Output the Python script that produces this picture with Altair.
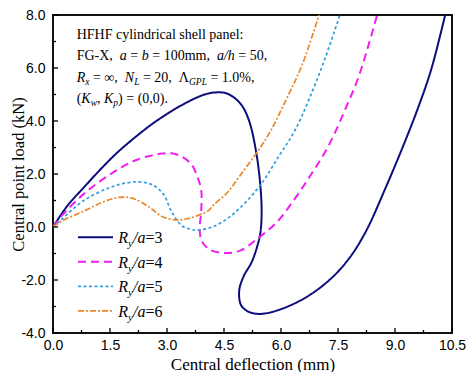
import altair as alt
import pandas as pd

# ---------------- data ----------------
series_names = ["3", "4", "5", "6"]

x_r3 = [0.0, 0.39, 0.81, 1.24, 1.67, 2.19, 2.70, 3.39, 3.99, 4.30, 4.59, 4.93, 5.15, 5.35,
        5.46, 5.49, 5.46, 5.37, 5.22, 5.02, 4.90, 4.95, 5.15, 5.45, 5.96, 6.65, 7.29, 7.80, 8.24,
        8.75, 9.19, 9.60, 9.95, 10.32]
y_r3 = [0.0, 0.82, 1.49, 2.16, 2.78, 3.42, 3.98, 4.60, 5.00, 5.08, 5.03, 4.66, 4.05, 2.80,
        1.50, 0.60, -0.20, -0.75, -1.35, -1.85, -2.40, -2.95, -3.20, -3.28, -3.12, -2.66, -1.98, -1.17, -0.15,
        1.47, 2.97, 4.47, 5.93, 8.00]

x_r4 = [0.0, 0.21, 0.81, 1.50, 2.19, 2.87, 3.12, 3.40, 3.65, 3.80, 3.90, 3.90, 3.86, 3.92, 4.12,
        4.50, 4.93, 5.36, 5.87, 6.39, 6.80, 7.16, 7.42, 7.72, 8.00, 8.27, 8.53]
y_r4 = [0.0, 0.39, 1.25, 1.98, 2.53, 2.77, 2.78, 2.65, 2.35, 1.90, 1.40, 0.60, -0.10, -0.55, -0.85,
        -0.98, -0.89, -0.46, 0.15, 1.12, 2.00, 2.83, 3.56, 4.54, 5.50, 6.70, 8.00]

x_r5 = [0.0, 0.21, 0.81, 1.50, 1.96, 2.27, 2.60, 2.90, 3.13, 3.39, 3.60, 3.82, 4.24, 4.76, 5.44,
        5.96, 6.35, 6.73, 7.16, 7.55]
y_r5 = [0.0, 0.27, 1.00, 1.49, 1.67, 1.70, 1.60, 1.25, 0.55, 0.05, -0.08, -0.12, 0.03, 0.51, 1.55,
        2.71, 3.60, 4.79, 6.37, 8.00]

x_r6 = [0.0, 0.21, 0.81, 1.33, 1.75, 2.10, 2.53, 2.87, 3.22, 3.56, 4.07, 4.24, 4.59, 4.90, 5.36,
        5.70, 6.13, 6.56, 7.00]
y_r6 = [0.0, 0.21, 0.60, 0.95, 1.12, 1.08, 0.75, 0.40, 0.27, 0.32, 0.60, 0.85, 1.30, 1.90, 2.80,
        3.56, 4.79, 6.13, 8.00]

x_major = [0.0, 1.5, 3.0, 4.5, 6.0, 7.5, 9.0, 10.5]
x_minor = [0.75, 2.25, 3.75, 5.25, 6.75, 8.25, 9.75]
y_major = [-4.0, -2.0, 0.0, 2.0, 4.0, 6.0, 8.0]
y_minor = [-3.0, -1.0, 1.0, 3.0, 5.0, 7.0]

# ---------------- styling ----------------
W, H = 399, 318
PAD_TOP = 7
colors = {"3": "#0c0c7c", "4": "#f01ef0", "5": "#2f9fdc", "6": "#e8862a"}
dashes = {"3": [1, 0], "4": [8, 5], "5": [3, 2.5], "6": [6, 2, 2, 2]}
widths = {"3": 2.0, "4": 2.0, "5": 1.7, "6": 1.7}

rows = []
for name, xs, ys in zip(series_names, [x_r3, x_r4, x_r5, x_r6], [y_r3, y_r4, y_r5, y_r6]):
    for i, (a, b) in enumerate(zip(xs, ys)):
        rows.append({"series": name, "idx": i, "x": a, "y": b})
df = pd.DataFrame(rows)

xscale = alt.Scale(domain=[0, 10.5], nice=False, zero=False)
yscale = alt.Scale(domain=[-4, 8], nice=False, zero=False)

lab_expr = "datum.value < 0 ? '-' + format(-datum.value, '.1f') : format(datum.value, '.1f')"
xaxis = alt.Axis(values=x_major, labelExpr=lab_expr, ticks=False, tickSize=0, domain=False, grid=False,
                 labelFlush=False, labelOverlap=False,
                 labelFont="Liberation Sans", labelFontSize=14, labelColor="black", labelPadding=5,
                 title="Central deflection (mm)", titleFont="Liberation Serif", titleFontSize=17,
                 titleFontWeight="normal", titleColor="black", titleBaseline="alphabetic", titleY=36)
yaxis = alt.Axis(values=y_major, labelExpr=lab_expr, ticks=False, tickSize=0, domain=False, grid=False,
                 labelFlush=False, labelOverlap=False,
                 labelFont="Liberation Sans", labelFontSize=14, labelColor="black", labelPadding=8,
                 title="Central point load (kN)", titleFont="Liberation Serif", titleFontSize=16.5,
                 titleFontWeight="normal", titleColor="black", titleBaseline="alphabetic",
                 titleAngle=270, titleX=-30, titleY=H / 2)

X = alt.X("x:Q", scale=xscale, axis=xaxis)
Y = alt.Y("y:Q", scale=yscale, axis=yaxis)

layers = []
for name in series_names:
    layers.append(
        alt.Chart(df).transform_filter(alt.datum.series == name)
        .mark_line(color=colors[name], strokeDash=dashes[name], strokeWidth=widths[name],
                   interpolate="catmull-rom", clip=True)
        .encode(x=X, y=Y, order="idx:Q")
    )

# inward ticks
tick_style = dict(color="black", strokeWidth=1.3)
layers.append(alt.Chart(pd.DataFrame({"x": x_major})).mark_rule(**tick_style)
              .encode(x=X, y=alt.value(H), y2=alt.value(H - 5)))
layers.append(alt.Chart(pd.DataFrame({"x": x_minor})).mark_rule(**tick_style)
              .encode(x=X, y=alt.value(H), y2=alt.value(H - 3)))
layers.append(alt.Chart(pd.DataFrame({"y": y_major})).mark_rule(**tick_style)
              .encode(y=Y, x=alt.value(0), x2=alt.value(5)))
layers.append(alt.Chart(pd.DataFrame({"y": y_minor})).mark_rule(**tick_style)
              .encode(y=Y, x=alt.value(0), x2=alt.value(3)))

# ---------------- rich text helpers ----------------
REG = {' ': 250, '%': 833, '(': 333, ')': 333, ',': 250, '-': 333, '.': 250, '/': 278, ':': 278,
       '=': 564, 'A': 722, 'F': 556, 'G': 722, 'H': 722, 'K': 722, 'L': 611, 'N': 722, 'P': 556,
       'R': 667, 'X': 722, 'a': 444, 'b': 500, 'c': 444, 'd': 500, 'e': 444, 'f': 333, 'h': 500,
       'i': 278, 'l': 278, 'm': 778, 'n': 500, 'o': 500, 'p': 500, 'r': 333, 's': 389, 't': 278,
       'w': 722, 'x': 500, 'y': 500, '\u221e': 713, '\u039b': 722}
for d in "0123456789":
    REG[d] = 500
ITA = {'a': 500, 'b': 500, 'h': 500, 'y': 444, 'x': 444, 'w': 667, 'p': 500, 'K': 667, 'N': 667,
       'R': 611, 'L': 556, 'G': 722, 'P': 611, '/': 278, ' ': 250}


def text_width(s, italic, size):
    tot = 0
    for ch in s:
        tot += (ITA.get(ch, REG.get(ch, 500)) if italic else REG.get(ch, 500))
    return tot * size / 1000.0


one = pd.DataFrame({"k": [0]})


def rich_line(pieces, x0, y, size, subsize, subdy):
    out = []
    x = x0
    for txt, ital, sub in pieces:
        fs = subsize if sub else size
        lead = len(txt) - len(txt.lstrip(" "))
        shown = txt.strip(" ")
        xs = x + text_width(" " * lead, ital, fs)
        if shown:
            out.append(
                alt.Chart(one).mark_text(text=shown, align="left", baseline="alphabetic",
                                         font="Liberation Serif", fontSize=fs,
                                         fontStyle="italic" if ital else "normal",
                                         dy=subdy if sub else 0, color="black")
                .encode(x=alt.value(xs), y=alt.value(y))
            )
        x += text_width(txt, ital, fs)
    return out


# page positions (reference) converted to plot coordinates
PLOT_LEFT_PAGE = 8 + 45
PLOT_TOP_PAGE = 8 + PAD_TOP


def px(page_x):
    return page_x - PLOT_LEFT_PAGE


def py(page_y):
    return page_y - PLOT_TOP_PAGE


ann_lines = [
    [("HFHF cylindrical shell panel:", False, False)],
    [("FG-X,  ", False, False), ("a", True, False), (" = ", False, False), ("b", True, False),
     (" = 100mm,  ", False, False), ("a/h", True, False), (" = 50,", False, False)],
    [("R", True, False), ("x", True, True), (" = \u221e,  ", False, False), ("N", True, False),
     ("L", True, True), (" = 20,  ", False, False), ("\u039b", False, False), ("GPL", True, True),
     (" = 1.0%,", False, False)],
    [("(", False, False), ("K", True, False), ("w", True, True), (", ", False, False),
     ("K", True, False), ("p", True, True), (") = (0,0).", False, False)],
]
ann_y_page = [38.5, 60.0, 81.5, 102.5]
for pieces, yy in zip(ann_lines, ann_y_page):
    layers += rich_line(pieces, px(76.7), py(yy), 14, 9.5, 3)

# ---------------- custom legend ----------------
leg_y_page = [237.3, 261.7, 286.4, 310.8]
for name, yy in zip(series_names, leg_y_page):
    layers.append(
        alt.Chart(one).mark_rule(color=colors[name], strokeDash=dashes[name], strokeWidth=widths[name])
        .encode(x=alt.value(px(78)), x2=alt.value(px(113)), y=alt.value(py(yy)))
    )
    layers += rich_line([("R", True, False), ("y", True, True), ("/a", True, False),
                         ("=" + name, False, False)], px(118.3), py(yy) + 6, 16, 11, 4)

chart = alt.layer(*layers).properties(
    width=W, height=H,
    padding={"left": 45, "top": PAD_TOP, "right": 14, "bottom": 39},
    autosize=alt.AutoSizeParams(type="none"),
).configure_view(stroke="#111111", strokeWidth=2)

chart.save("out.html", embed_options={"renderer": "svg", "actions": False})
